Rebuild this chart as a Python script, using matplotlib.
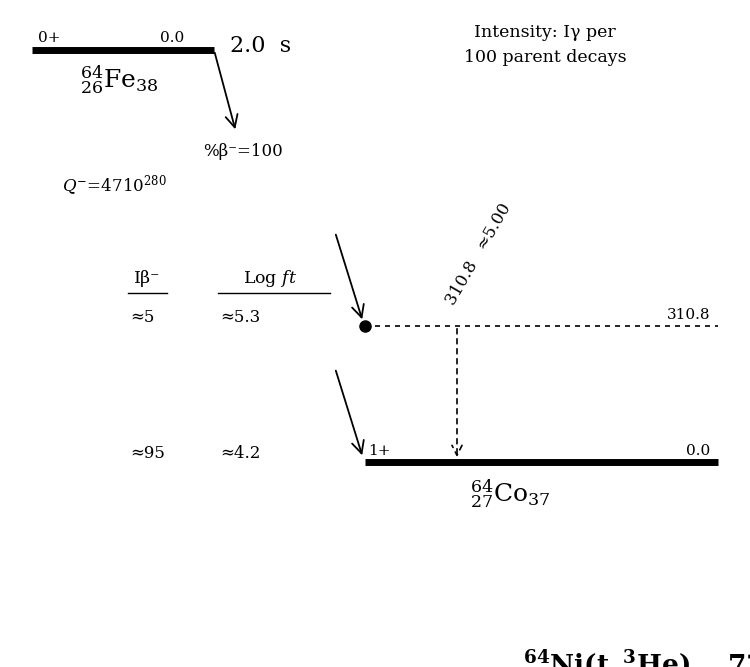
import matplotlib
matplotlib.use("Agg")
import matplotlib.pyplot as plt

plt.rcParams["mathtext.fontset"] = "dejavuserif"

level_energies = [0.0, 310.8]
level_spins = ["1+", ""]
level_labels = ["0.0", "310.8"]
ibeta = ["≈95", "≈5"]
logft = ["≈4.2", "≈5.3"]
gamma_energies = [310.8]
gamma_intensities = ["≈5.00"]

SERIF = ["DejaVu Serif"]
fig = plt.figure(figsize=(7.5, 6.67), dpi=100)
ax = fig.add_axes([0, 0, 1, 1])
ax.set_xlim(0, 750)
ax.set_ylim(667, 0)
ax.axis("off")

def ypos(e):
    return 462 - e * (462 - 326) / 310.8

# parent
ax.plot([32, 214], [50, 50], color="black", lw=5, solid_capstyle="butt")
ax.text(38, 42, "0+", fontsize=11, family=SERIF)
ax.text(160, 42, "0.0", fontsize=11, family=SERIF)
ax.text(230, 52, "2.0  s", fontsize=16, family=SERIF)
ax.text(80, 80, r"$^{64}_{26}$Fe$_{38}$", fontsize=18, family=SERIF, va="center")
ax.annotate("", xy=(236, 132), xytext=(214, 50),
            arrowprops=dict(arrowstyle="->", color="black", lw=1.3, mutation_scale=22))
ax.text(203, 152, "%β⁻=100", fontsize=12, family=SERIF, va="center")
ax.text(62, 186, r"$Q^{-}$=4710$^{280}$", fontsize=12, family=SERIF, va="center")
ax.text(545, 45, "Intensity: Iγ per\n100 parent decays", fontsize=12.5, family=SERIF,
        ha="center", va="center", linespacing=1.6)

# headers
ax.text(147, 283, "Iβ⁻", fontsize=12.5, family=SERIF, ha="center")
ax.plot([128, 167], [293, 293], color="black", lw=1)
ax.text(270, 283, "Log $ft$", fontsize=12.5, family=SERIF, ha="center")
ax.plot([218, 330], [293, 293], color="black", lw=1)

for e, sp, lab, ib, lf in zip(level_energies, level_labels and level_energies, level_labels, ibeta, logft):
    pass

for e, sp, lab, ib, lf in zip(level_energies, level_spins, level_labels, ibeta, logft):
    y = ypos(e)
    if e == 0:
        ax.plot([365, 718], [y, y], color="black", lw=5, solid_capstyle="butt")
    else:
        ax.plot([365, 718], [y, y], color="black", lw=1.2, ls=(0, (3, 3)))
        ax.plot(365, y, "o", color="black", ms=8)
    ax.text(368, y - 7, sp, fontsize=11, family=SERIF)
    ax.text(710, y - 7, lab, fontsize=11, family=SERIF, ha="right")
    ax.text(130, y - 8, ib, fontsize=12, family=SERIF, ha="left", va="center")
    ax.text(220, y - 8, lf, fontsize=12, family=SERIF, va="center")
    ax.annotate("", xy=(363, y - 4), xytext=(335, y - 94),
                arrowprops=dict(arrowstyle="->", color="black", lw=1.3, mutation_scale=22))

for g, gi in zip(gamma_energies, gamma_intensities):
    y0 = ypos(g); y1 = ypos(0)
    ax.annotate("", xy=(457, y1 - 2), xytext=(457, y0),
                arrowprops=dict(arrowstyle="->", color="black", lw=1.2, ls=(0, (3, 3)),
                                mutation_scale=18))
    ax.text(457, y0 - 18, f"{g:.1f}   {gi}", fontsize=12, family=SERIF, rotation=60,
            rotation_mode="anchor", ha="left", va="bottom")

ax.text(470, 494, r"$^{64}_{27}$Co$_{37}$", fontsize=18, family=SERIF, va="center")
ax.text(523, 681, r"$\mathbf{^{64}Ni(t,^{3}He)}$    73Fl17", fontsize=19, family=SERIF,
        fontweight="bold", va="bottom")

fig.savefig("out.png", dpi=100)
